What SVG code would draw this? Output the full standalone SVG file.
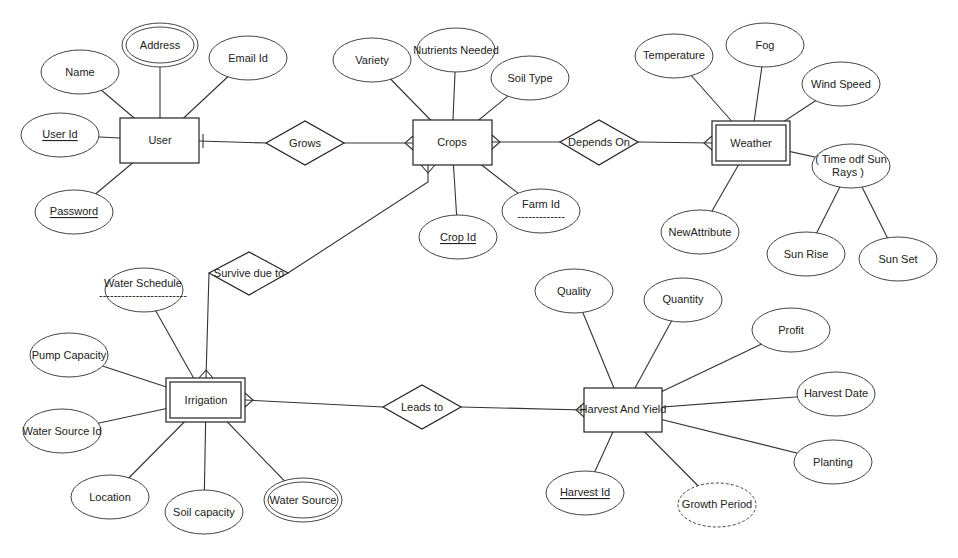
<svg xmlns="http://www.w3.org/2000/svg" width="958" height="558" viewBox="0 0 958 558">
<style>
text{font-family:"Liberation Sans",Arial,sans-serif;font-size:11px;fill:#222;text-anchor:middle;dominant-baseline:central}
.e{fill:#fff;stroke:#444;stroke-width:1}
.r{fill:#fff;stroke:#222;stroke-width:1.2}
.c line,.c polyline{stroke:#333;stroke-width:1.1;fill:none}
.u{text-decoration:underline}
</style>
<rect width="958" height="558" fill="#fff"/>
<g class="c" id="connectors">
<line x1="160" y1="140" x2="80" y2="72"/><line x1="160" y1="140" x2="160" y2="66"/><line x1="160" y1="140" x2="248" y2="58"/>
<line x1="160" y1="140" x2="60" y2="135"/><line x1="160" y1="140" x2="74" y2="212"/>
<line x1="199" y1="141" x2="266" y2="143"/><line x1="203" y1="134" x2="203" y2="148"/>
<line x1="344" y1="143" x2="413" y2="143"/>
<polyline points="413,136 405,143 413,150"/>
<line x1="452" y1="142" x2="372" y2="60"/><line x1="452" y1="142" x2="456" y2="50"/><line x1="452" y1="142" x2="530" y2="78"/>
<line x1="452" y1="142" x2="458" y2="237"/><line x1="452" y1="142" x2="541" y2="211"/>
<line x1="492" y1="142" x2="560" y2="142"/><polyline points="492,135 500,142 492,149"/>
<line x1="638" y1="142" x2="712" y2="143"/><polyline points="712,136 704,143 712,150"/>
<line x1="751" y1="143" x2="674" y2="56"/><line x1="751" y1="143" x2="765" y2="45"/><line x1="751" y1="143" x2="841" y2="84"/>
<line x1="751" y1="143" x2="851" y2="165"/><line x1="751" y1="143" x2="700" y2="232"/>
<line x1="851" y1="165" x2="806" y2="254"/><line x1="851" y1="165" x2="898" y2="259"/>
<polyline points="428,165 428,182 288,273"/><polyline points="421,165 428,173 435,165"/>
<polyline points="209,273 206,378"/><polyline points="199,378 206,370 213,378"/>
<line x1="206" y1="400" x2="144" y2="290"/><line x1="206" y1="400" x2="69" y2="355"/><line x1="206" y1="400" x2="62" y2="431"/>
<line x1="206" y1="400" x2="110" y2="497"/><line x1="206" y1="400" x2="204" y2="512"/><line x1="206" y1="400" x2="303" y2="500"/>
<line x1="245" y1="400" x2="383" y2="407"/><polyline points="245,393 253,400 245,407"/>
<line x1="461" y1="407" x2="584" y2="410"/><polyline points="584,403 576,410 584,417"/>
<line x1="623" y1="410" x2="574" y2="291"/><line x1="623" y1="410" x2="683" y2="300"/><line x1="623" y1="410" x2="791" y2="330"/>
<line x1="623" y1="410" x2="836" y2="394"/><line x1="623" y1="410" x2="833" y2="462"/><line x1="623" y1="410" x2="585" y2="493"/>
<line x1="623" y1="410" x2="717" y2="505"/>
</g>
<g id="user"><rect class="r" x="120" y="118" width="79" height="45"/><text x="160" y="140">User</text></g>
<g id="name"><ellipse class="e" cx="80" cy="72" rx="39" ry="22"/><text x="80" y="72">Name</text></g>
<g id="address"><ellipse class="e" cx="160" cy="45" rx="38" ry="22"/><ellipse class="e" cx="160" cy="45" rx="34" ry="18"/><text x="160" y="45">Address</text></g>
<g id="email"><ellipse class="e" cx="248" cy="58" rx="39" ry="22"/><text x="248" y="58">Email Id</text></g>
<g id="userid"><ellipse class="e" cx="60" cy="135" rx="39" ry="22"/><text class="u" x="60" y="134">User Id</text></g>
<g id="password"><ellipse class="e" cx="74" cy="212" rx="39" ry="22"/><text class="u" x="74" y="211">Password</text></g>
<g id="grows"><polygon class="r" points="266,143 305,121 344,143 305,165"/><text x="305" y="143">Grows</text></g>
<g id="crops"><rect class="r" x="413" y="120" width="79" height="45"/><text x="452" y="142">Crops</text></g>
<g id="variety"><ellipse class="e" cx="372" cy="60" rx="39" ry="22"/><text x="372" y="60">Variety</text></g>
<g id="nutrients"><ellipse class="e" cx="456" cy="50" rx="39" ry="22"/><text x="456" y="50">Nutrients Needed</text></g>
<g id="soiltype"><ellipse class="e" cx="530" cy="78" rx="39" ry="22"/><text x="530" y="78">Soil Type</text></g>
<g id="cropid"><ellipse class="e" cx="458" cy="237" rx="39" ry="22"/><text class="u" x="458" y="237">Crop Id</text></g>
<g id="farmid"><ellipse class="e" cx="541" cy="211" rx="39" ry="22"/><text x="541" y="204">Farm Id</text><text x="541" y="216">-------------</text></g>
<g id="depends"><polygon class="r" points="560,142 599,120 638,142 599,165"/><text x="599" y="142">Depends On</text></g>
<g id="weather"><rect class="r" x="712" y="121" width="78" height="44"/><rect class="r" x="716" y="125" width="70" height="36"/><text x="751" y="143">Weather</text></g>
<g id="temperature"><ellipse class="e" cx="674" cy="56" rx="39" ry="22"/><text x="674" y="55">Temperature</text></g>
<g id="fog"><ellipse class="e" cx="765" cy="45" rx="39" ry="22"/><text x="765" y="45">Fog</text></g>
<g id="windspeed"><ellipse class="e" cx="841" cy="84" rx="39" ry="22"/><text x="841" y="84">Wind Speed</text></g>
<g id="sunrays"><ellipse class="e" cx="851" cy="166" rx="39" ry="22"/><text x="851" y="159">( Time odf Sun</text><text x="848" y="172">Rays )</text></g>
<g id="newattr"><ellipse class="e" cx="700" cy="232" rx="39" ry="22"/><text x="700" y="232">NewAttribute</text></g>
<g id="sunrise"><ellipse class="e" cx="806" cy="254" rx="39" ry="22"/><text x="806" y="254">Sun Rise</text></g>
<g id="sunset"><ellipse class="e" cx="898" cy="259" rx="39" ry="22"/><text x="898" y="259">Sun Set</text></g>
<g id="survive"><polygon class="r" points="209,273 249,252 288,273 249,295"/><text x="249" y="273">Survive due to</text></g>
<g id="irrigation"><rect class="r" x="166" y="378" width="79" height="44"/><rect class="r" x="170" y="382" width="71" height="36"/><text x="206" y="400">Irrigation</text></g>
<g id="waterschedule"><ellipse class="e" cx="144" cy="290" rx="39" ry="22"/><text x="143" y="283">Water Schedule</text><text x="143" y="295">------------------------</text></g>
<g id="pump"><ellipse class="e" cx="69" cy="355" rx="39" ry="22"/><text x="69" y="355">Pump Capacity</text></g>
<g id="wsid"><ellipse class="e" cx="62" cy="431" rx="39" ry="22"/><text x="62" y="431">Water Source Id</text></g>
<g id="location"><ellipse class="e" cx="110" cy="497" rx="39" ry="22"/><text x="110" y="497">Location</text></g>
<g id="soilcap"><ellipse class="e" cx="204" cy="512" rx="39" ry="22"/><text x="204" y="512">Soil capacity</text></g>
<g id="watersource"><ellipse class="e" cx="303" cy="500" rx="39" ry="22"/><ellipse class="e" cx="303" cy="500" rx="35" ry="18"/><text x="303" y="500">Water Source</text></g>
<g id="leads"><polygon class="r" points="383,407 422,385 461,407 422,429"/><text x="422" y="407">Leads to</text></g>
<g id="harvest"><rect class="r" x="584" y="388" width="78" height="44"/><text x="623" y="409">Harvest And Yield</text></g>
<g id="quality"><ellipse class="e" cx="574" cy="291" rx="39" ry="22"/><text x="574" y="291">Quality</text></g>
<g id="quantity"><ellipse class="e" cx="683" cy="300" rx="39" ry="22"/><text x="683" y="299">Quantity</text></g>
<g id="profit"><ellipse class="e" cx="791" cy="330" rx="39" ry="22"/><text x="791" y="330">Profit</text></g>
<g id="harvestdate"><ellipse class="e" cx="836" cy="394" rx="39" ry="22"/><text x="836" y="393">Harvest Date</text></g>
<g id="planting"><ellipse class="e" cx="833" cy="462" rx="39" ry="22"/><text x="833" y="462">Planting</text></g>
<g id="harvestid"><ellipse class="e" cx="585" cy="493" rx="39" ry="22"/><text class="u" x="585" y="492">Harvest Id</text></g>
<g id="growth"><ellipse class="e" cx="717" cy="505" rx="39" ry="22" stroke-dasharray="3,2"/><text x="717" y="504">Growth Period</text></g>
</svg>
